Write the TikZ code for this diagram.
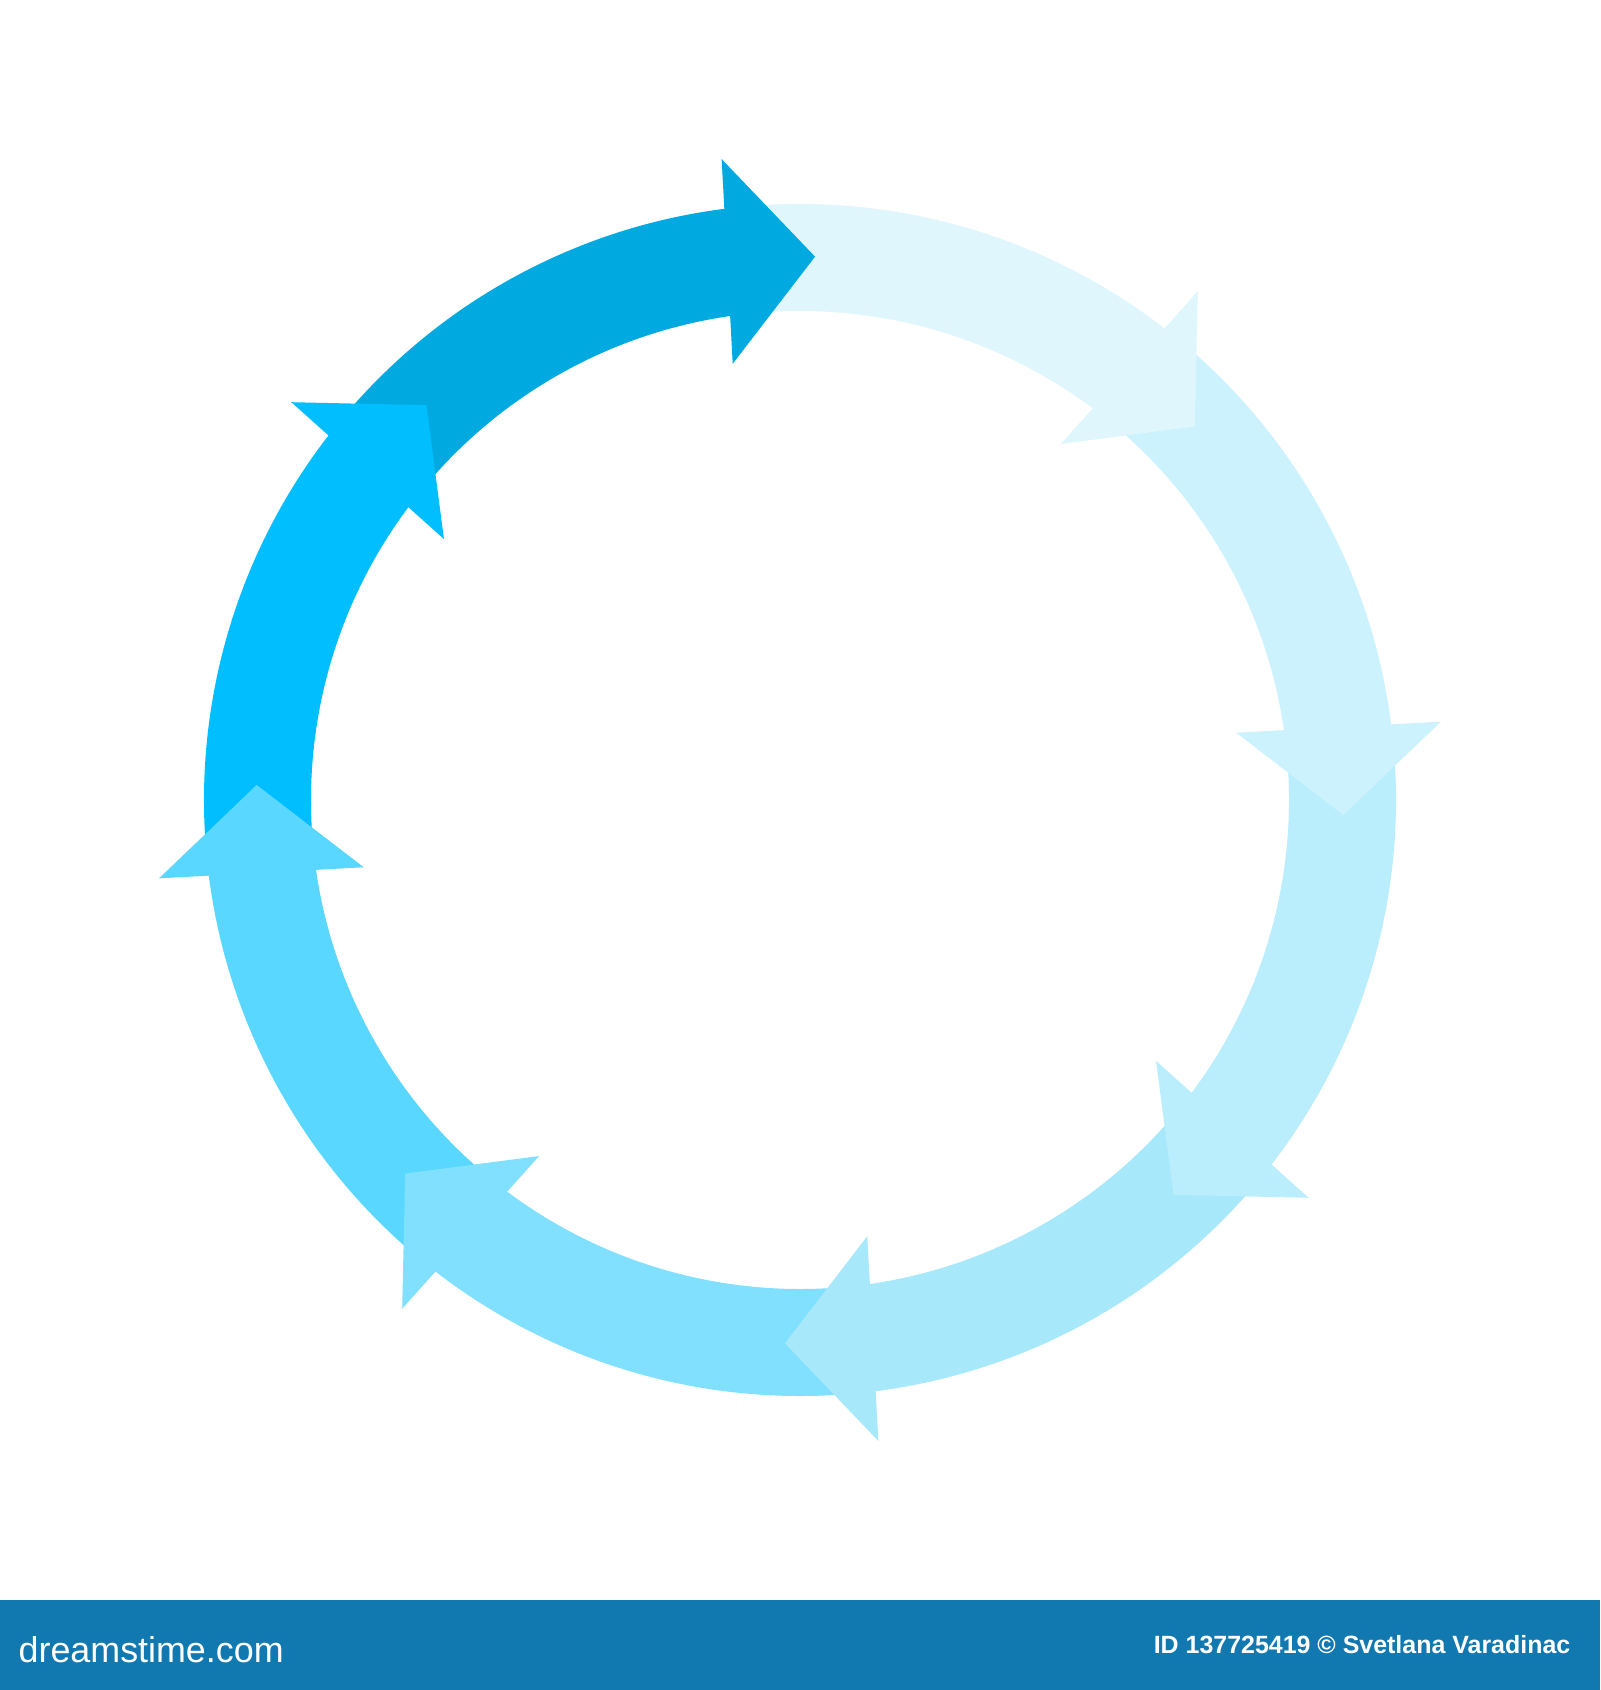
\documentclass[tikz,border=0pt]{standalone}
\usepackage{fontspec}
\setmainfont{Liberation Sans}

\definecolor{ringA}{HTML}{00AAE0}
\definecolor{ringB}{HTML}{DFF6FD}
\definecolor{ringC}{HTML}{CCF2FD}
\definecolor{ringD}{HTML}{BAEEFC}
\definecolor{ringE}{HTML}{A8E8FB}
\definecolor{ringF}{HTML}{80E0FE}
\definecolor{ringG}{HTML}{5AD7FF}
\definecolor{ringH}{HTML}{00BEFF}
\definecolor{stampblue}{HTML}{1178B0}

\begin{document}
\begin{tikzpicture}[
    x=0.1mm, y=0.1mm,
    footer/.style={fill=stampblue},
    site/.style={text=white, inner sep=0pt, font=\fontsize{10.2}{12}\selectfont},
    credit/.style={text=white, inner sep=0pt, font=\bfseries\fontsize{7.1}{8.5}\selectfont}
]
\useasboundingbox (-800,-890) rectangle (800,800);
\fill[white] (-800,-890) rectangle (800,800);

% Ring bands (tip angle / colour)
\foreach \t/\c in {88.5/ringA, 43.5/ringB, -1.5/ringC, -46.5/ringD,
                   -91.5/ringE, -136.5/ringF, 178.5/ringG, 133.5/ringH}{
  \fill[\c] ({\t+53.5}:596) arc[start angle=\t+53.5, end angle=\t+8.5, radius=596]
     -- ({\t+8.5}:489) arc[start angle=\t+8.5, end angle=\t+53.5, radius=489] -- cycle;
}

% Arrow heads on top
\foreach \t/\c in {88.5/ringA, 43.5/ringB, -1.5/ringC, -46.5/ringD,
                   -91.5/ringE, -136.5/ringF, 178.5/ringG, 133.5/ringH}{
  \begin{scope}[shift={({\t+9.2}:543.5)}, rotate=\t+4.6-90]
    \fill[\c] (0,102.5) -- (88,0) -- (0,-102.5) -- cycle;
  \end{scope}
}

% Footer
\fill[footer] (-800,-890) rectangle (800,-800);
\node[site, anchor=base west] (site) at (-782,-862) {dreamstime.com};
\node[credit, anchor=base east] (credit) at (771,-853) {ID 137725419 © Svetlana Varadinac};

\end{tikzpicture}
\end{document}
